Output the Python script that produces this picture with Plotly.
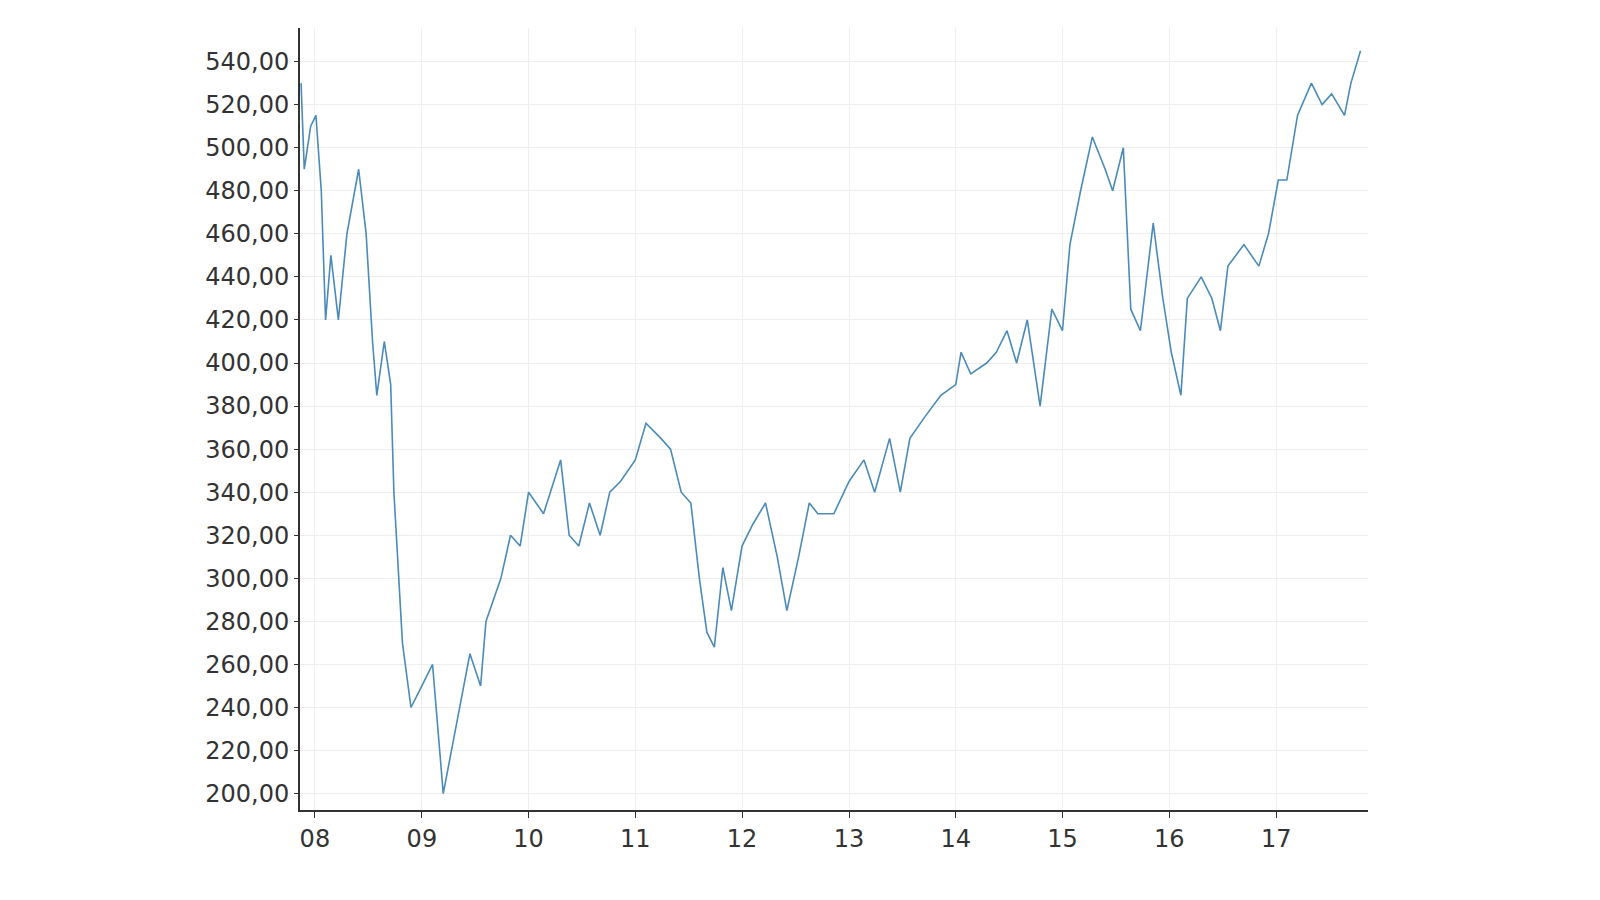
import pandas as pd
import plotly.graph_objects as go

# decimal years and index values
years = [2007.87, 2007.90, 2007.96, 2008.01, 2008.06, 2008.10, 2008.15, 2008.22, 2008.30,
         2008.41, 2008.48, 2008.54, 2008.58, 2008.65, 2008.71, 2008.74, 2008.82, 2008.90,
         2009.00, 2009.10, 2009.20, 2009.35, 2009.45, 2009.55, 2009.60, 2009.74, 2009.83,
         2009.92, 2010.00, 2010.14, 2010.30, 2010.38, 2010.47, 2010.57, 2010.67, 2010.76,
         2010.86, 2011.00, 2011.10, 2011.24, 2011.33, 2011.43, 2011.52, 2011.60, 2011.67,
         2011.74, 2011.82, 2011.90, 2012.00, 2012.10, 2012.22, 2012.33, 2012.42, 2012.53,
         2012.63, 2012.71, 2012.86, 2013.00, 2013.14, 2013.24, 2013.38, 2013.48, 2013.57,
         2013.71, 2013.86, 2014.00, 2014.05, 2014.14, 2014.29, 2014.38, 2014.48, 2014.57,
         2014.67, 2014.79, 2014.90, 2015.00, 2015.07, 2015.17, 2015.28, 2015.40, 2015.47,
         2015.57, 2015.64, 2015.73, 2015.85, 2015.94, 2016.02, 2016.11, 2016.17, 2016.30,
         2016.40, 2016.48, 2016.55, 2016.70, 2016.84, 2016.93, 2017.02, 2017.10, 2017.20,
         2017.33, 2017.43, 2017.52, 2017.64, 2017.70, 2017.79]
values = [530, 490, 510, 515, 480, 420, 450, 420, 460,
          490, 460, 410, 385, 410, 390, 340, 270, 240,
          250, 260, 200, 240, 265, 250, 280, 300, 320,
          315, 340, 330, 355, 320, 315, 335, 320, 340,
          345, 355, 372, 365, 360, 340, 335, 300, 275,
          268, 305, 285, 315, 325, 335, 310, 285, 310,
          335, 330, 330, 345, 355, 340, 365, 340, 365,
          375, 385, 390, 405, 395, 400, 405, 415, 400,
          420, 380, 425, 415, 455, 480, 505, 490, 480,
          500, 425, 415, 465, 430, 405, 385, 430, 440,
          430, 415, 445, 455, 445, 460, 485, 485, 515,
          530, 520, 525, 515, 530, 545]


def to_date(y):
    yr = int(y)
    start = pd.Timestamp(year=yr, month=1, day=1)
    return start + pd.Timedelta(days=(y - yr) * 365.25)


dates = [to_date(y) for y in years]

fig = go.Figure(go.Scatter(x=dates, y=values, mode="lines",
                           line=dict(color="#4a8bb9", width=1.6)))

fig.update_layout(
    width=1600, height=900,
    paper_bgcolor="white", plot_bgcolor="white",
    margin=dict(l=292, r=240, t=20, b=98),
    showlegend=False,
    separators=",.",
    font=dict(family="DejaVu Sans, Arial, sans-serif", size=24, color="#333"),
)
fig.update_xaxes(
    range=[to_date(2007.86), to_date(2017.86)],
    tickformat="%y", dtick="M12", tick0="2008-01-01",
    showgrid=True, gridcolor="#eeeeee",
    showline=True, linecolor="#333", linewidth=2,
    ticks="outside", ticklen=6, tickcolor="#333",
)
fig.update_yaxes(
    range=[192.4, 555.6],
    tickformat=".2f", dtick=20, tick0=200,
    showgrid=True, gridcolor="#eeeeee",
    showline=True, linecolor="#333", linewidth=2,
    ticks="outside", ticklen=4, tickcolor="#333",
)

fig.write_html("out.html")
